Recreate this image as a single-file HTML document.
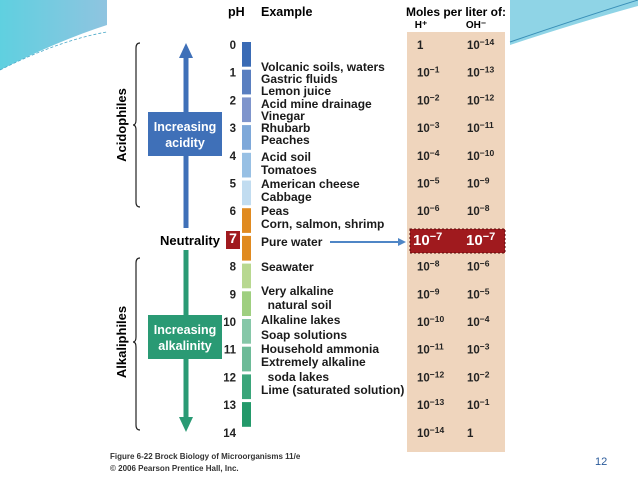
<!DOCTYPE html>
<html><head><meta charset="utf-8"><style>
body{margin:0;background:#fff;}
svg{display:block;font-family:"Liberation Sans",sans-serif;}
</style></head><body>
<svg id="s" width="638" height="479" viewBox="0 0 638 479">
<defs><linearGradient id="sw" x1="0" y1="0" x2="1" y2="0"><stop offset="0" stop-color="#5fd0e0"/><stop offset="1" stop-color="#8fc4e0"/></linearGradient></defs>
<path d="M0 0 H107 V25 Q60 40 0 70 Z" fill="url(#sw)"/>
<path d="M0 70 Q60 40 107 32" stroke="#4aa8c8" fill="none" stroke-width="0.8" stroke-dasharray="3 2"/>
<path d="M510 0 H638 V6 Q580 22 510 45 Z" fill="#8fd4e6"/>
<path d="M510 42 Q580 18 638 0" stroke="#3a90b8" fill="none" stroke-width="1"/>
<text x="228" y="16" font-size="12.5" font-weight="bold">pH</text>
<text x="261" y="16" font-size="12.5" font-weight="bold">Example</text>
<text x="456" y="16" font-size="12" font-weight="bold" text-anchor="middle">Moles per liter of:</text>
<text x="421" y="28" font-size="10" font-weight="bold" text-anchor="middle">H⁺</text>
<text x="476" y="28" font-size="10" font-weight="bold" text-anchor="middle">OH⁻</text>
<rect x="407" y="32" width="98" height="420" fill="#efd5bd"/>
<rect x="410" y="229" width="95" height="24" fill="#a01a1e" stroke="#5a0a0a" stroke-dasharray="2 2"/>
<line x1="330" y1="242" x2="402" y2="242" stroke="#4f86c6" stroke-width="2"/>
<path d="M406 242 L398 238 L398 246 Z" fill="#4f86c6"/>
<line x1="186" y1="228" x2="186" y2="58" stroke="#3f70b8" stroke-width="5"/>
<path d="M186 43 L179 58 L193 58 Z" fill="#3f70b8"/>
<rect x="148" y="112" width="74" height="44" fill="#3f70b8"/>
<text x="185" y="131" font-size="12.5" font-weight="bold" fill="#fff" text-anchor="middle">Increasing</text>
<text x="185" y="147" font-size="12.5" font-weight="bold" fill="#fff" text-anchor="middle">acidity</text>
<line x1="186" y1="250" x2="186" y2="418" stroke="#2a9a74" stroke-width="5"/>
<path d="M186 432 L179 417 L193 417 Z" fill="#2a9a74"/>
<rect x="148" y="315" width="74" height="44" fill="#2a9a74"/>
<text x="185" y="334" font-size="12.5" font-weight="bold" fill="#fff" text-anchor="middle">Increasing</text>
<text x="185" y="350" font-size="12.5" font-weight="bold" fill="#fff" text-anchor="middle">alkalinity</text>
<path d="M140 43 Q136 43 136 48 V120 Q136 125 133 125 Q136 125 136 130 V202 Q136 207 140 207" stroke="#222" fill="none" stroke-width="1.2"/>
<path d="M140 258 Q136 258 136 263 V337 Q136 342 133 342 Q136 342 136 347 V425 Q136 430 140 430" stroke="#222" fill="none" stroke-width="1.2"/>
<text transform="translate(126 125) rotate(-90)" font-size="13" font-weight="bold" text-anchor="middle">Acidophiles</text>
<text transform="translate(126 342) rotate(-90)" font-size="13" font-weight="bold" text-anchor="middle">Alkaliphiles</text>
<text x="220" y="245" font-size="13" font-weight="bold" text-anchor="end">Neutrality</text>
<rect x="226" y="231" width="14" height="18" fill="#a01a1e"/>
<text x="110" y="459" font-size="8" font-weight="bold" fill="#333">Figure 6-22  Brock Biology of Microorganisms 11/e</text>
<text x="110" y="471" font-size="8" font-weight="bold" fill="#333">© 2006 Pearson Prentice Hall, Inc.</text>
<text x="595" y="465" font-size="11" fill="#2a5a9a">12</text>
<g id="rows"></g>
</svg>
<script>
const phValues=[0,1,2,3,4,5,6,7,8,9,10,11,12,13,14];
const hExp=[0,-1,-2,-3,-4,-5,-6,-7,-8,-9,-10,-11,-12,-13,-14];
const ohExp=[-14,-13,-12,-11,-10,-9,-8,-7,-6,-5,-4,-3,-2,-1,0];
const segColors=["#3a6bb5","#5a7fc0","#7f95cc","#7ea8d9","#98c0e4","#c1dcf0","#e08a20","#e08a20","#b8d890","#9fcf80","#86c7a8","#6dbb98","#3aa57a","#23996a"];
const examples=[["Volcanic soils, waters",67],["Gastric fluids",79],["Lemon juice",91],["Acid mine drainage",104],["Vinegar",116],["Rhubarb",128],["Peaches",140],["Acid soil",157],["Tomatoes",170],["American cheese",184],["Cabbage",197],["Peas",211],["Corn, salmon, shrimp",224],["Pure water",242],["Seawater",267],["Very alkaline",291],["  natural soil",305],["Alkaline lakes",320],["Soap solutions",335],["Household ammonia",349],["Extremely alkaline",362],["  soda lakes",377],["Lime (saturated solution)",390]];
const NS="http://www.w3.org/2000/svg";
const g=document.getElementById('rows');
const yOf=p=>45+27.7*p;
function mk(t,a){const e=document.createElementNS(NS,t);for(const k in a)e.setAttribute(k,a[k]);g.appendChild(e);return e;}
segColors.forEach((c,i)=>{
 const r=mk('rect',{x:242,y:yOf(i)-3,width:9,height:yOf(i+1)-yOf(i)-3,fill:c});
 
 
});
function pow(e,x,y,fill,big){
 const t=mk('text',{x:x,y:y,'font-size':big?15:11.5,'font-weight':'bold',fill:fill});
 
 
 if(e===0){t.textContent='1';return;}
 t.textContent='10';
 const s=document.createElementNS(NS,'tspan');s.setAttribute('dy',big?-5:-4);s.setAttribute('font-size',big?11:8.5);s.textContent='−'+(-e);t.appendChild(s);
}
phValues.forEach((p,i)=>{
 const y=yOf(p);
 const n=mk('text',{x:236,y:y+4,'font-size':p===7?14:11.5,'font-weight':'bold','text-anchor':'end',fill:p===7?'#fff':'#222'});
 if(p===7){n.setAttribute('x',233);n.setAttribute('text-anchor','middle');}
 n.textContent=p;
 
 
 const big=p===7;
 pow(hExp[i],big?413:417,y+4+(big?2:0),big?'#fff':'#222',big);
 pow(ohExp[i],big?466:467,y+4+(big?2:0),big?'#fff':'#222',big);
});
examples.forEach(([t,y])=>{
 const e=mk('text',{x:261,y:y+4,'font-size':12,'font-weight':'bold',fill:'#1a1a1a'});
 e.textContent=t.startsWith('  ')?'\u00a0\u00a0'+t.trim():t;
 
 
});
</script>
</body></html>
